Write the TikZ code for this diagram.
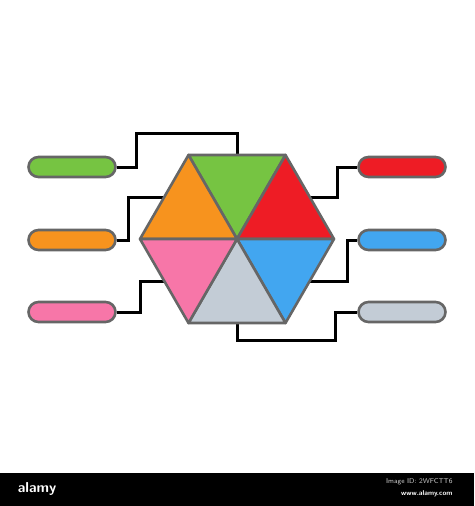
\documentclass[tikz,border=0pt]{standalone}
\usepackage{tikz}

\definecolor{hexgreen}{HTML}{76C442}
\definecolor{hexorange}{HTML}{F7931E}
\definecolor{hexred}{HTML}{EE1C25}
\definecolor{hexblue}{HTML}{42A6F0}
\definecolor{hexgray}{HTML}{C3CCD6}
\definecolor{hexpink}{HTML}{F776A8}
\definecolor{rim}{HTML}{666666}

\tikzset{
	pill/.style={draw=rim, line width=2.6pt, rounded corners=10pt, minimum width=87pt, minimum height=20pt, inner sep=0pt},
	link/.style={line width=3pt, black},
	piece/.style={draw=rim, line width=2.6pt, line join=round}
}

\begin{document}
\begin{tikzpicture}[x=1pt, y=-1pt]
			\useasboundingbox (0,0) rectangle (474,506);
			\coordinate (c) at (237,239);
			\coordinate (vL) at (140,239);
			\coordinate (vTL) at (188.5,155);
			\coordinate (vTR) at (285.5,155);
			\coordinate (vR) at (334,239);
			\coordinate (vBR) at (285.5,323);
			\coordinate (vBL) at (188.5,323);
			\coordinate (mT) at (237,155);
			\coordinate (mUL) at (164.25,197);
			\coordinate (mUR) at (309.75,197);
			\coordinate (mLL) at (164.25,281);
			\coordinate (mLR) at (309.75,281);
			\coordinate (mB) at (237,323);
			\node[pill, fill=hexgreen] (pG) at (72,167) {};
			\node[pill, fill=hexorange] (pO) at (72,240) {};
			\node[pill, fill=hexpink] (pP) at (72,312) {};
			\node[pill, fill=hexred] (pR) at (402,167) {};
			\node[pill, fill=hexblue] (pB) at (402,240) {};
			\node[pill, fill=hexgray] (pS) at (402,312) {};
			\draw[link] (pG.east) -- ++(20,0) |- ([yshift=22pt]mT) -- (mT);
			\draw[link] (pO.east) -- ++(12,0) |- (mUL);
			\draw[link] (pP.east) -- ++(24,0) |- (mLL);
			\draw[link] (pR.west) -- ++(-20,0) |- (mUR);
			\draw[link] (pB.west) -- ++(-10,0) |- (mLR);
			\draw[link] (pS.west) -- ++(-22,0) |- ([yshift=-17pt]mB) -- (mB);
			\draw[piece, fill=hexgreen] (c) -- (vTL) -- (vTR) -- cycle;
			\draw[piece, fill=hexorange] (c) -- (vL) -- (vTL) -- cycle;
			\draw[piece, fill=hexred] (c) -- (vTR) -- (vR) -- cycle;
			\draw[piece, fill=hexblue] (c) -- (vR) -- (vBR) -- cycle;
			\draw[piece, fill=hexgray] (c) -- (vBR) -- (vBL) -- cycle;
			\draw[piece, fill=hexpink] (c) -- (vBL) -- (vL) -- cycle;
			\fill[black] (0,473) rectangle (474,506);
			\node[white, font=\sffamily\bfseries\Large] (logo) at (37,489) {alamy};
			\node[white!80!black, font=\sffamily\scriptsize, anchor=east] (imgid) at (456,482) {Image ID: 2WFCTT6};
			\node[white, font=\sffamily\bfseries\scriptsize, anchor=east] (site) at (456,494) {www.alamy.com};
		\end{tikzpicture}
\end{document}
